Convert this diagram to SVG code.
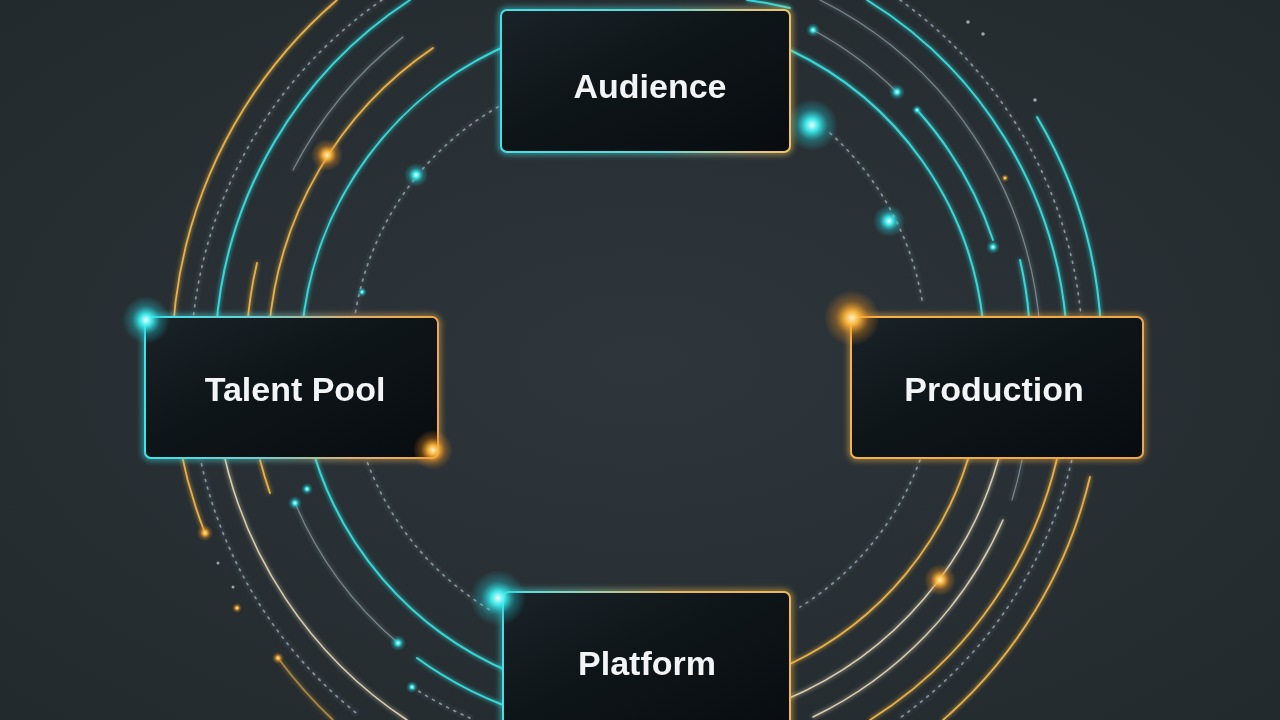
<svg xmlns="http://www.w3.org/2000/svg" width="1280" height="720" viewBox="0 0 1280 720">
<defs>
<radialGradient id="bg" cx="50%" cy="50%" r="75%">
<stop offset="0" stop-color="#2e363b"/>
<stop offset="1" stop-color="#22292d"/>
</radialGradient>
<linearGradient id="boxFill" x1="0" y1="0" x2="1" y2="1">
<stop offset="0" stop-color="#1a2328"/>
<stop offset="0.45" stop-color="#0e1519"/>
<stop offset="1" stop-color="#080c10"/>
</linearGradient>
<linearGradient id="gA" gradientUnits="userSpaceOnUse" x1="501" y1="0" x2="790" y2="0">
<stop offset="0" stop-color="#3ee3ea"/>
<stop offset="0.55" stop-color="#5fd8d8"/>
<stop offset="0.85" stop-color="#d8c88a"/>
<stop offset="1" stop-color="#f0c35a"/>
</linearGradient>
<linearGradient id="gT" gradientUnits="userSpaceOnUse" x1="145" y1="0" x2="438" y2="0">
<stop offset="0" stop-color="#3ee3ea"/>
<stop offset="0.4" stop-color="#6dd0d0"/>
<stop offset="0.7" stop-color="#e0b070"/>
<stop offset="1" stop-color="#f2a845"/>
</linearGradient>
<linearGradient id="gP" gradientUnits="userSpaceOnUse" x1="851" y1="317" x2="1143" y2="458">
<stop offset="0" stop-color="#f6b54c"/>
<stop offset="1" stop-color="#eea646"/>
</linearGradient>
<linearGradient id="gL" gradientUnits="userSpaceOnUse" x1="503" y1="0" x2="790" y2="0">
<stop offset="0" stop-color="#3ee3ea"/>
<stop offset="0.3" stop-color="#9ccfb0"/>
<stop offset="0.6" stop-color="#e8b860"/>
<stop offset="1" stop-color="#f2b848"/>
</linearGradient>
<radialGradient id="glowC">
<stop offset="0" stop-color="#e8ffff"/>
<stop offset="0.25" stop-color="#3ef0f0" stop-opacity="0.95"/>
<stop offset="0.6" stop-color="#22c8d0" stop-opacity="0.35"/>
<stop offset="1" stop-color="#22c8d0" stop-opacity="0"/>
</radialGradient>
<radialGradient id="glowO">
<stop offset="0" stop-color="#fff2c8"/>
<stop offset="0.25" stop-color="#ffb83a" stop-opacity="0.95"/>
<stop offset="0.6" stop-color="#f09020" stop-opacity="0.35"/>
<stop offset="1" stop-color="#f09020" stop-opacity="0"/>
</radialGradient>
<filter id="soft" x="-10%" y="-10%" width="120%" height="120%">
<feGaussianBlur in="SourceGraphic" stdDeviation="2" result="b"/>
<feMerge><feMergeNode in="b"/><feMergeNode in="SourceGraphic"/></feMerge>
</filter>
<filter id="edge" x="-10%" y="-10%" width="120%" height="120%">
<feGaussianBlur stdDeviation="3"/>
</filter>
<style>
.c{fill:none;stroke:#36d8d8;stroke-width:2;stroke-linecap:round}
.o{fill:none;stroke:#e9b044;stroke-width:1.8;stroke-linecap:round}
.w{fill:none;stroke:#d9cfae;stroke-width:1.5;stroke-linecap:round}
.g{fill:none;stroke:#7a888e;stroke-width:1.2;stroke-linecap:round}
.d{fill:none;stroke:#8896a0;stroke-width:1.6;stroke-dasharray:2 6;stroke-linecap:round}
.box{fill:url(#boxFill);stroke-width:2}
.lbl{font-family:"Liberation Sans",Arial,sans-serif;font-weight:700;font-size:34px;fill:#f2f4f5;text-anchor:middle}
.dotC{fill:#7ff4f4}
.dotO{fill:#ffd27a}
.dotG{fill:#9aa6ab}
</style>
</defs>
<rect width="1280" height="720" fill="url(#bg)"/>

<g id="connectors" filter="url(#soft)">
<!-- left side -->
<path class="o" d="M337,0 A474,474 0 0 0 205,533"/>
<path class="o" opacity="0.6" d="M278,658 A474,474 0 0 0 333,720"/>
<path class="d" d="M382,0 A446,446 0 0 0 360,716"/>
<path class="c" d="M410,0 A430,430 0 0 0 216,330"/>
<path class="w" stroke="#d8c48e" d="M221,440 A432,432 0 0 0 407,720"/>
<path class="g" d="M403,37 A402,402 0 0 0 293,170"/>
<path class="o" d="M257,263 A400,400 0 0 0 247,330"/>
<path class="o" d="M260,460 A398,398 0 0 0 270,493"/>
<path class="o" d="M433,48 A377,377 0 0 0 269,330"/>
<path class="g" d="M295,503 A377,377 0 0 0 398,643"/>
<path class="c" d="M417,658 A373,373 0 0 0 503,705"/>
<path class="d" d="M412,687 A400,400 0 0 0 470,718"/>
<path class="c" d="M515,42 A345,345 0 0 0 302,330"/>
<path class="c" d="M310,440 A346,346 0 0 0 510,672"/>
<path class="d" d="M505,103 A293,293 0 0 0 354,322"/>
<path class="d" d="M360,440 A293,293 0 0 0 490,610"/>
<!-- right side -->
<path class="c" d="M747,0 A374,374 0 0 1 790,8"/>
<path class="c" d="M790,50 A340,340 0 0 1 983,322"/>
<path class="o" d="M972,445 A337,337 0 0 1 790,664"/>
<path class="g" d="M813,30 A370,370 0 0 1 897,92"/>
<path class="c" d="M917,110 A370,370 0 0 1 993,240"/>
<path class="w" d="M1002,445 A368,368 0 0 1 785,700"/>
<path class="g" d="M820,0 A400,400 0 0 1 1040,330"/>
<path class="g" d="M1022,460 A390,390 0 0 1 1012,500"/>
<path class="w" stroke="#b8bcb8" d="M1003,520 A394,394 0 0 1 813,717"/>
<path class="c" d="M867,0 A423,423 0 0 1 1066,322"/>
<path class="o" d="M1060,445 A424,424 0 0 1 870,720"/>
<path class="d" d="M900,0 A440,440 0 0 1 1082,330"/>
<path class="d" d="M1075,445 A438,438 0 0 1 897,720"/>
<path class="c" d="M1020,260 A388,388 0 0 1 1029,318"/>
<path class="c" d="M1037,117 A460,460 0 0 1 1101,330"/>
<path class="o" d="M1090,477 A464,464 0 0 1 943,720"/>
<path class="d" d="M830,133 A293,293 0 0 1 922,300"/>
<path class="d" d="M920,460 A293,293 0 0 1 800,607"/>
</g>

<g id="sparks">
<circle cx="812" cy="125" r="26" fill="url(#glowC)"/>
<circle cx="889" cy="221" r="16" fill="url(#glowC)"/>
<circle cx="416" cy="175" r="12" fill="url(#glowC)"/>
<circle cx="813" cy="30" r="7" fill="url(#glowC)"/>
<circle cx="897" cy="92" r="8" fill="url(#glowC)"/>
<circle cx="993" cy="247" r="7" fill="url(#glowC)"/>
<circle cx="917" cy="110" r="5" fill="url(#glowC)"/>
<circle cx="362" cy="292" r="5" fill="url(#glowC)"/>
<circle cx="307" cy="489" r="6" fill="url(#glowC)"/>
<circle cx="295" cy="503" r="7" fill="url(#glowC)"/>
<circle cx="398" cy="643" r="8" fill="url(#glowC)"/>
<circle cx="412" cy="687" r="6" fill="url(#glowC)"/>
<circle cx="327" cy="155" r="16" fill="url(#glowO)"/>
<circle cx="940" cy="580" r="16" fill="url(#glowO)"/>
<circle cx="205" cy="533" r="8" fill="url(#glowO)"/>
<circle cx="237" cy="608" r="5" fill="url(#glowO)"/>
<circle cx="278" cy="658" r="6" fill="url(#glowO)"/>
<circle cx="1005" cy="178" r="4" fill="url(#glowO)"/>
<circle cx="968" cy="22" r="1.8" class="dotG"/>
<circle cx="983" cy="34" r="1.8" class="dotG"/>
<circle cx="1035" cy="100" r="1.8" class="dotG"/>
<circle cx="218" cy="563" r="1.5" class="dotG"/>
<circle cx="233" cy="587" r="1.5" class="dotG"/>
</g>

<g id="node-audience">
<rect x="501" y="10" width="289" height="142" rx="6" fill="none" stroke="url(#gA)" stroke-width="4" filter="url(#edge)" opacity="0.8"/>
<rect class="box" x="501" y="10" width="289" height="142" rx="6" stroke="url(#gA)"/>
<text class="lbl" x="650" y="98">Audience</text>
</g>

<g id="node-talent-pool">
<rect x="145" y="317" width="293" height="141" rx="6" fill="none" stroke="url(#gT)" stroke-width="4" filter="url(#edge)" opacity="0.8"/>
<rect class="box" x="145" y="317" width="293" height="141" rx="6" stroke="url(#gT)"/>
<circle cx="146" cy="320" r="24" fill="url(#glowC)"/>
<circle cx="433" cy="450" r="20" fill="url(#glowO)"/>
<text class="lbl" x="295" y="401">Talent Pool</text>
</g>

<g id="node-production">
<rect x="851" y="317" width="292" height="141" rx="6" fill="none" stroke="url(#gP)" stroke-width="4" filter="url(#edge)" opacity="0.8"/>
<rect class="box" x="851" y="317" width="292" height="141" rx="6" stroke="url(#gP)"/>
<circle cx="852" cy="318" r="28" fill="url(#glowO)"/>
<text class="lbl" x="994" y="401">Production</text>
</g>

<g id="node-platform">
<rect x="503" y="592" width="287" height="145" rx="6" fill="none" stroke="url(#gL)" stroke-width="4" filter="url(#edge)" opacity="0.8"/>
<rect class="box" x="503" y="592" width="287" height="145" rx="6" stroke="url(#gL)"/>
<circle cx="498" cy="598" r="28" fill="url(#glowC)"/>
<text class="lbl" x="647" y="675">Platform</text>
</g>
</svg>
